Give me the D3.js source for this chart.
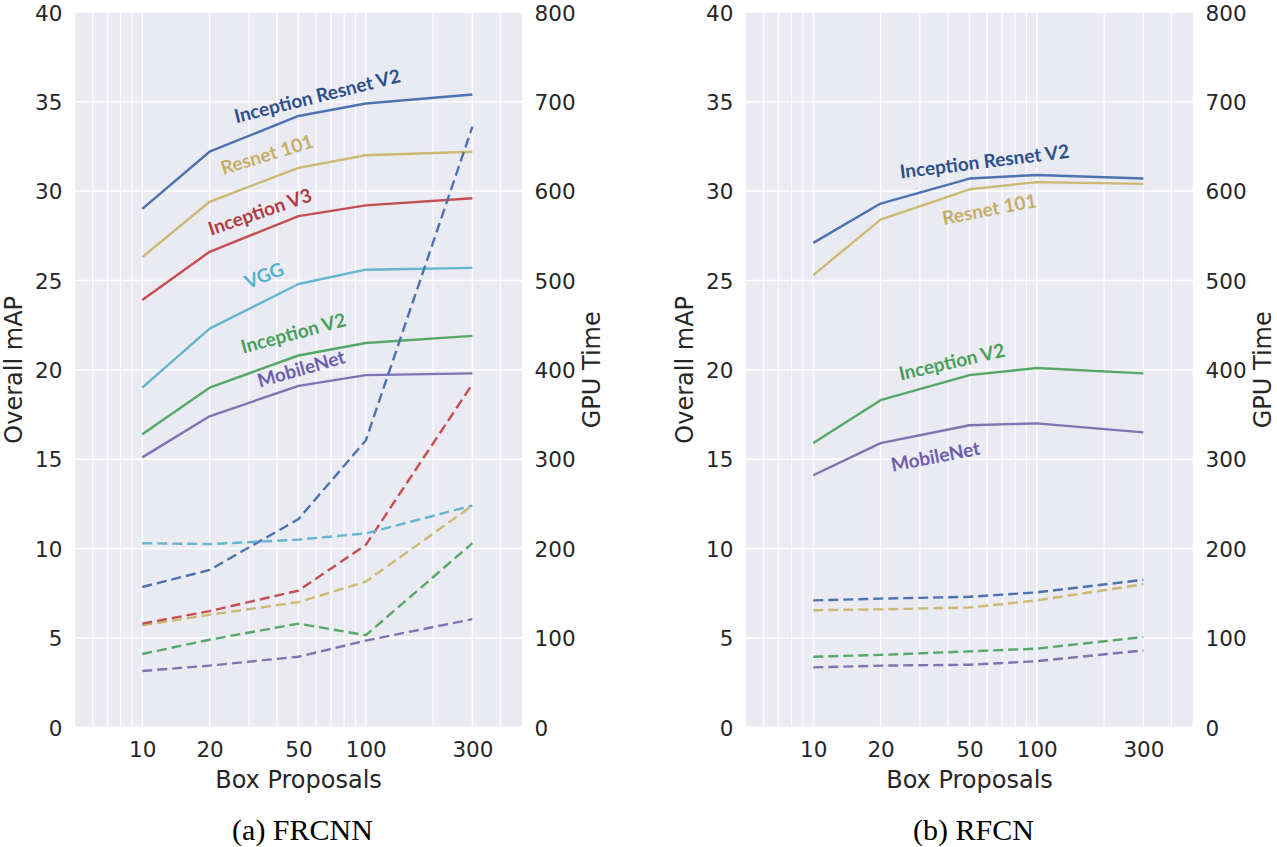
<!DOCTYPE html>
<html><head><meta charset="utf-8">
<script src="https://cdn.jsdelivr.net/npm/d3@7"></script>
<style>body{margin:0;background:#fff} svg{display:block}</style>
</head><body><svg id="c" width="1277" height="847"></svg>
<script>
// ---------- data ----------
const proposals = [10, 20, 50, 100, 300];
const mapTicks = [0, 5, 10, 15, 20, 25, 30, 35, 40];
const timeTicks = [0, 100, 200, 300, 400, 500, 600, 700, 800];
const minorGrid = [6, 7, 8, 9, 30, 40, 60, 70, 80, 90, 200, 400];

const models = ["Inception Resnet V2", "Resnet 101", "Inception V3", "VGG", "Inception V2", "MobileNet"];
const lineColors = ["#4C72B0", "#CCB974", "#C44E52", "#64B5CD", "#55A868", "#8172B2"];
const labelColors = ["#2D5089", "#C4AE68", "#AE3D42", "#55B2CF", "#47A05A", "#6E5EAE"];

// FRCNN overall mAP
const frcnnMapIRV2 = [29.0, 32.2, 34.2, 34.9, 35.4];
const frcnnMapR101 = [26.3, 29.4, 31.3, 32.0, 32.2];
const frcnnMapIV3  = [23.9, 26.6, 28.6, 29.2, 29.6];
const frcnnMapVGG  = [19.0, 22.3, 24.8, 25.6, 25.7];
const frcnnMapIV2  = [16.4, 19.0, 20.8, 21.5, 21.9];
const frcnnMapMob  = [15.1, 17.4, 19.1, 19.7, 19.8];
// FRCNN GPU time
const frcnnTimeIRV2 = [157, 176, 233, 321, 672];
const frcnnTimeR101 = [114, 126, 140, 163, 248];
const frcnnTimeIV3  = [116, 130, 153, 204, 384];
const frcnnTimeVGG  = [206, 205, 210, 217, 248];
const frcnnTimeIV2  = [82, 98, 116, 103, 206];
const frcnnTimeMob  = [63, 69, 79, 97, 121];

// RFCN overall mAP
const rfcnMapIRV2 = [27.1, 29.3, 30.7, 30.9, 30.7];
const rfcnMapR101 = [25.3, 28.4, 30.1, 30.5, 30.4];
const rfcnMapIV2  = [15.9, 18.3, 19.7, 20.1, 19.8];
const rfcnMapMob  = [14.1, 15.9, 16.9, 17.0, 16.5];
// RFCN GPU time
const rfcnTimeIRV2 = [142, 144, 146, 151, 165];
const rfcnTimeR101 = [131, 132, 134, 142, 160];
const rfcnTimeIV2  = [79, 81, 85, 88, 101];
const rfcnTimeMob  = [67, 69, 70, 74, 86];

// label anchors in data space: [proposals, mAP, angle]
const frcnnLabelPos = [[26.3, 33.8, -14], [23.0, 30.9, -17], [20.3, 27.5, -19], [29.7, 24.5, -22], [28.2, 20.9, -15], [33.5, 19.0, -16]];
const rfcnLabelPos = [[24.6, 30.7, -7], [38.3, 28.1, -11], [24.6, 19.4, -13], [22.6, 14.3, -11]];

const panels = [
  {left: 75, right: 522, caption: "(a) FRCNN", idx: [0,1,2,3,4,5],
   maps: [frcnnMapIRV2, frcnnMapR101, frcnnMapIV3, frcnnMapVGG, frcnnMapIV2, frcnnMapMob],
   times: [frcnnTimeIRV2, frcnnTimeR101, frcnnTimeIV3, frcnnTimeVGG, frcnnTimeIV2, frcnnTimeMob],
   labels: frcnnLabelPos},
  {left: 746, right: 1193, caption: "(b) RFCN", idx: [0,1,4,5],
   maps: [rfcnMapIRV2, rfcnMapR101, rfcnMapIV2, rfcnMapMob],
   times: [rfcnTimeIRV2, rfcnTimeR101, rfcnTimeIV2, rfcnTimeMob],
   labels: rfcnLabelPos}
];

// ---------- drawing ----------
const svg = d3.select("#c");
const plotTop = 12.3, plotBottom = 727.3;
const tickFont = "DejaVu Sans", tickSize = 21.5, labSize = 24;
const textCol = "#262626";

panels.forEach(p => {
  const x = d3.scaleLog().domain([5, 500]).range([p.left, p.right]);
  const y = d3.scaleLinear().domain([0, 40]).range([plotBottom, plotTop]);
  const y2 = d3.scaleLinear().domain([0, 800]).range([plotBottom, plotTop]);
  const g = svg.append("g");

  g.append("rect").attr("x", p.left).attr("y", plotTop)
    .attr("width", p.right - p.left).attr("height", plotBottom - plotTop).attr("fill", "#EAEAF2");

  // grid
  g.selectAll(".vminor").data(minorGrid).enter().append("line")
    .attr("x1", d => x(d)).attr("x2", d => x(d)).attr("y1", plotTop).attr("y2", plotBottom)
    .attr("stroke", "#fff").attr("stroke-width", 1.1);
  g.selectAll(".vmajor").data(proposals).enter().append("line")
    .attr("x1", d => x(d)).attr("x2", d => x(d)).attr("y1", plotTop).attr("y2", plotBottom)
    .attr("stroke", "#fff").attr("stroke-width", 1.4);
  g.selectAll(".hgrid").data(mapTicks).enter().append("line")
    .attr("x1", p.left).attr("x2", p.right).attr("y1", d => y(d)).attr("y2", d => y(d))
    .attr("stroke", "#fff").attr("stroke-width", 1.4);

  // axes
  const ax = g.append("g").attr("transform", `translate(0,${plotBottom})`)
    .call(d3.axisBottom(x).tickValues(proposals).tickFormat(d3.format("d")).tickSize(0).tickPadding(14));
  const ay = g.append("g").attr("transform", `translate(${p.left},0)`)
    .call(d3.axisLeft(y).tickValues(mapTicks).tickFormat(d3.format("d")).tickSize(0).tickPadding(12.6));
  const ay2 = g.append("g").attr("transform", `translate(${p.right},0)`)
    .call(d3.axisRight(y2).tickValues(timeTicks).tickFormat(d3.format("d")).tickSize(0).tickPadding(12.6));
  [ax, ay, ay2].forEach(a => {
    a.select(".domain").remove();
    a.selectAll("text").attr("font-family", tickFont).attr("font-size", tickSize).attr("fill", textCol);
  });
  ay.selectAll("text").attr("dy", "0.36em");
  ay2.selectAll("text").attr("dy", "0.36em");

  // axis titles
  const cx = (p.left + p.right) / 2, cy = (plotTop + plotBottom) / 2;
  g.append("text").attr("x", cx).attr("y", 787.7).attr("text-anchor", "middle")
    .attr("font-family", tickFont).attr("font-size", labSize).attr("fill", textCol).text("Box Proposals");
  g.append("text").attr("transform", `translate(${p.left - 53.5},${cy}) rotate(-90)`).attr("text-anchor", "middle")
    .attr("font-family", tickFont).attr("font-size", labSize).attr("fill", textCol).text("Overall mAP");
  g.append("text").attr("transform", `translate(${p.right + 77.5},${cy}) rotate(-90)`).attr("text-anchor", "middle")
    .attr("font-family", tickFont).attr("font-size", labSize).attr("fill", textCol).text("GPU Time");

  // caption
  g.append("text").attr("x", cx + 4).attr("y", 840).attr("text-anchor", "middle")
    .attr("font-family", "Liberation Serif").attr("font-size", 30).attr("fill", "#000").text(p.caption);

  // lines
  const solid = d3.line().x((d, i) => x(proposals[i])).y(d => y(d));
  const dashed = d3.line().x((d, i) => x(proposals[i])).y(d => y2(d));
  p.maps.forEach((s, k) => {
    g.append("path").attr("d", solid(s)).attr("fill", "none")
      .attr("stroke", lineColors[p.idx[k]]).attr("stroke-width", 2.4).attr("stroke-linejoin", "round");
  });
  p.times.forEach((s, k) => {
    g.append("path").attr("d", dashed(s)).attr("fill", "none")
      .attr("stroke", lineColors[p.idx[k]]).attr("stroke-width", 2.4).attr("stroke-dasharray", "10,5");
  });

  // in-line labels
  p.labels.forEach((l, k) => {
    const m = p.idx[k];
    g.append("text").attr("transform", `translate(${x(l[0])},${y(l[1])}) rotate(${l[2]})`)
      .attr("font-family", "Lato").attr("font-weight", 700).attr("font-size", 19)
      .attr("fill", labelColors[m]).text(models[m]);
  });
});
</script></body></html>
